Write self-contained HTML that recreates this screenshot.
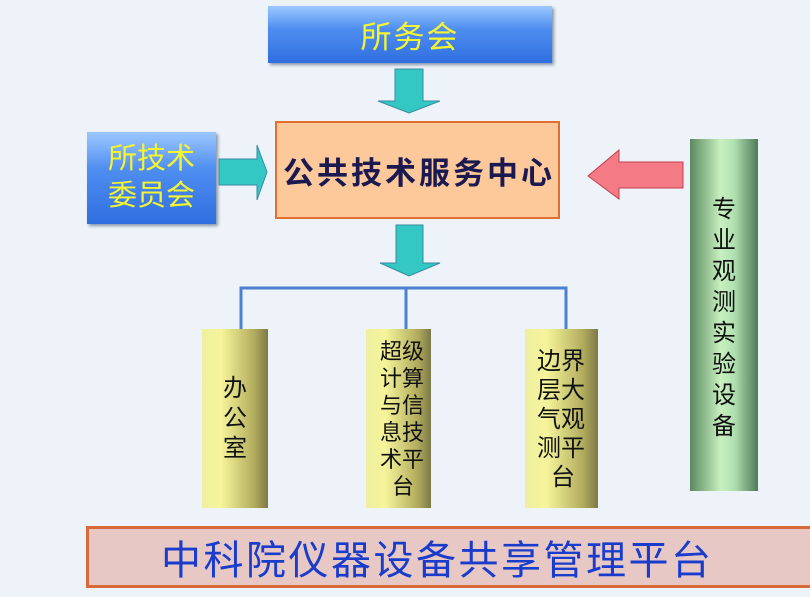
<!DOCTYPE html>
<html><head><meta charset="utf-8"><style>
body{margin:0;width:810px;height:597px;background:#eef3fa;position:relative;overflow:hidden;font-family:"Liberation Sans","Noto Sans CJK SC",sans-serif}
.a{position:absolute;box-sizing:border-box}
.blue{background:linear-gradient(#9cc8ff,#4f8ef0 40%,#2f6fe0);box-shadow:2px 2px 3px #8895a8;color:#f4f430;display:flex;align-items:center;justify-content:center;text-align:center}
.yel{background:linear-gradient(90deg,#eef0a0,#f6f49a 30%,#b0ab5c 80%,#7c7848);color:#111;font-size:22px;line-height:27px}
</style></head><body>
<div class="a blue" style="left:268px;top:6px;width:284px;height:57px;font-size:31px;letter-spacing:2px">所务会</div>
<div class="a blue" style="left:87px;top:132px;width:129px;height:92px;font-size:29px;line-height:37px">所技术<br>委员会</div>
<div class="a" style="left:275px;top:121px;width:285px;height:98px;background:#fdc89a;border:2px solid #e07030;display:flex;align-items:center;justify-content:center;font-size:31px;letter-spacing:3px;font-weight:bold;color:#1a1a50;padding-left:3px">公共技术服务中心</div>
<svg class="a" style="left:0;top:0" width="810" height="597">
<polygon points="395,69 423,69 423,101 440,101 409,113 378,101 395,101" fill="#33c8c4" stroke="#3a8aa0"/>
<polygon points="219,159 257,159 257,145 267,172 257,200 257,185 219,185" fill="#33c8c4" stroke="#3a8aa0"/>
<polygon points="396,225 423,225 423,263 440,263 409,276 380,263 396,263" fill="#33c8c4" stroke="#3a8aa0"/>
<polygon points="683,162 619,162 619,150 588,176 619,199 619,188 683,188" fill="#f47a86" stroke="#c04050"/>
<polyline points="241,329 241,288 566,288 566,329" fill="none" stroke="#4a82d0" stroke-width="3"/>
<line x1="406" y1="288" x2="406" y2="329" stroke="#4a82d0" stroke-width="3"/>
</svg>
<div class="a" style="left:690px;top:139px;width:68px;height:352px;background:linear-gradient(90deg,#5a8a60,#c8f0c0 45%,#b0e0b0 65%,#507a58);font-size:24px;line-height:31px;color:#111;text-align:center;padding-top:55px">专<br>业<br>观<br>测<br>实<br>验<br>设<br>备</div>
<div class="a yel" style="left:202px;top:329px;width:66px;height:179px;text-align:center;padding-top:45px;font-size:24px;line-height:30px">办<br>公<br>室</div>
<div class="a yel" style="left:366px;top:329px;width:65px;height:179px;padding:9px 0 0 14px">超级<br>计算<br>与信<br>息技<br>术平<br><span style="padding-left:12px">台</span></div>
<div class="a yel" style="left:525px;top:329px;width:73px;height:179px;padding:18px 0 0 12px;font-size:24px;line-height:29px">边界<br>层大<br>气观<br>测平<br><span style="padding-left:14px">台</span></div>
<div class="a" style="left:86px;top:526px;width:730px;height:62px;background:#e8c8c4;border:3px solid #d86a3a;color:#1a3ccc;font-size:40px;letter-spacing:2.5px;display:flex;align-items:center;padding-left:72px">中科院仪器设备共享管理平台</div>
</body></html>
